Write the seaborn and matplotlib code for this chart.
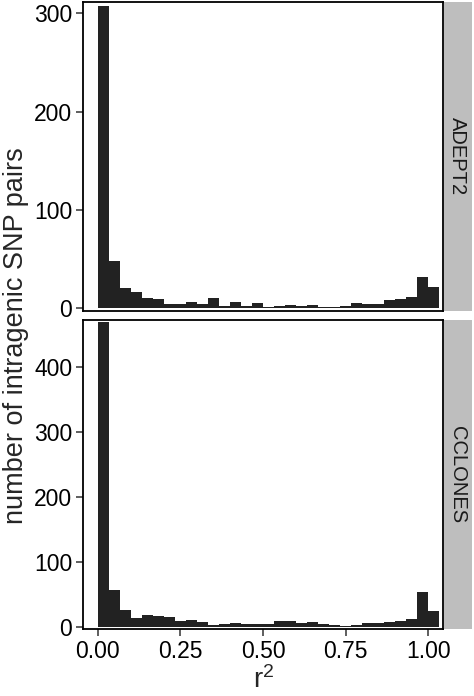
import numpy as np
import pandas as pd
import matplotlib
matplotlib.use('Agg')
from matplotlib import pyplot as plt
from matplotlib.patches import Rectangle
import seaborn as sns

sns.set_style('white')
plt.rcParams['font.family'] = ['Liberation Sans', 'DejaVu Sans']
plt.rcParams['mathtext.default'] = 'regular'

# r^2 bins, width 1/30 (last bin holds r^2 = 1)
bin_edges = [i / 30 for i in range(32)]
bin_mids = [(a + b) / 2 for a, b in zip(bin_edges[:-1], bin_edges[1:])]

panels = ['ADEPT2', 'CCLONES']
adept2_counts = [308, 48, 21, 16, 10, 9, 4, 4, 6, 4, 10, 2, 6, 2, 5, 1,
                 2, 3, 2, 3, 1, 1, 2, 5, 4, 4, 8, 9, 11, 32, 22]
cclones_counts = [468, 56, 26, 13, 18, 16, 15, 8, 10, 7, 2, 4, 5, 4, 4, 4,
                  8, 9, 5, 7, 4, 3, 1, 3, 5, 5, 7, 9, 12, 53, 24]
yticks = {'ADEPT2': [0, 100, 200, 300], 'CCLONES': [0, 100, 200, 300, 400]}
ylims = {'ADEPT2': (-2.7, 312), 'CCLONES': (-3.5, 472)}

df = pd.DataFrame({
    'panel': np.repeat(panels, len(bin_mids)),
    'r2': bin_mids * 2,
    'count': adept2_counts + cclones_counts,
})

fig, axes = plt.subplots(2, 1, figsize=(4.74, 6.96), dpi=100)
fig.subplots_adjust(left=0.176, right=0.9346, top=0.9976, bottom=0.0963, hspace=0.029)

for ax, p in zip(axes, panels):
    sub = df[df['panel'] == p].reset_index(drop=True)
    sns.histplot(data=sub, x='r2', weights='count', bins=bin_edges,
                 ax=ax, color='#222222', alpha=1, edgecolor='none', linewidth=0)
    ax.set_xlim(-0.0435, 1.0445)
    ax.set_ylim(*ylims[p])
    ax.set_yticks(yticks[p])
    ax.set_xticks([0, 0.25, 0.5, 0.75, 1.0])
    ax.set_ylabel('')
    ax.set_xlabel('')
    for s in ax.spines.values():
        s.set_color('black')
        s.set_linewidth(1.3)
    ax.tick_params(axis='both', which='both', direction='out', length=5, width=1.1,
                   color='#333333', labelsize=16.5, labelcolor='black', pad=3,
                   left=True, bottom=True)
    # facet strip on the right
    ax.add_patch(Rectangle((1.003, 0), 0.077, 1, transform=ax.transAxes,
                           clip_on=False, facecolor='#bebebe', edgecolor='none'))
    ax.text(1.0415, 0.5, p, transform=ax.transAxes, rotation=270,
            ha='center', va='center', fontsize=14.5, color='#1a1a1a')

axes[0].tick_params(axis='x', bottom=False, labelbottom=False)
axes[1].set_xticklabels(['0.00', '0.25', '0.50', '0.75', '1.00'])
axes[1].set_xlabel('r$^2$', fontsize=20, labelpad=2.5)
fig.text(0.006, 0.518, 'number of intragenic SNP pairs', rotation=90,
         ha='left', va='center', fontsize=19.5)

fig.savefig('out.png', dpi=100)
